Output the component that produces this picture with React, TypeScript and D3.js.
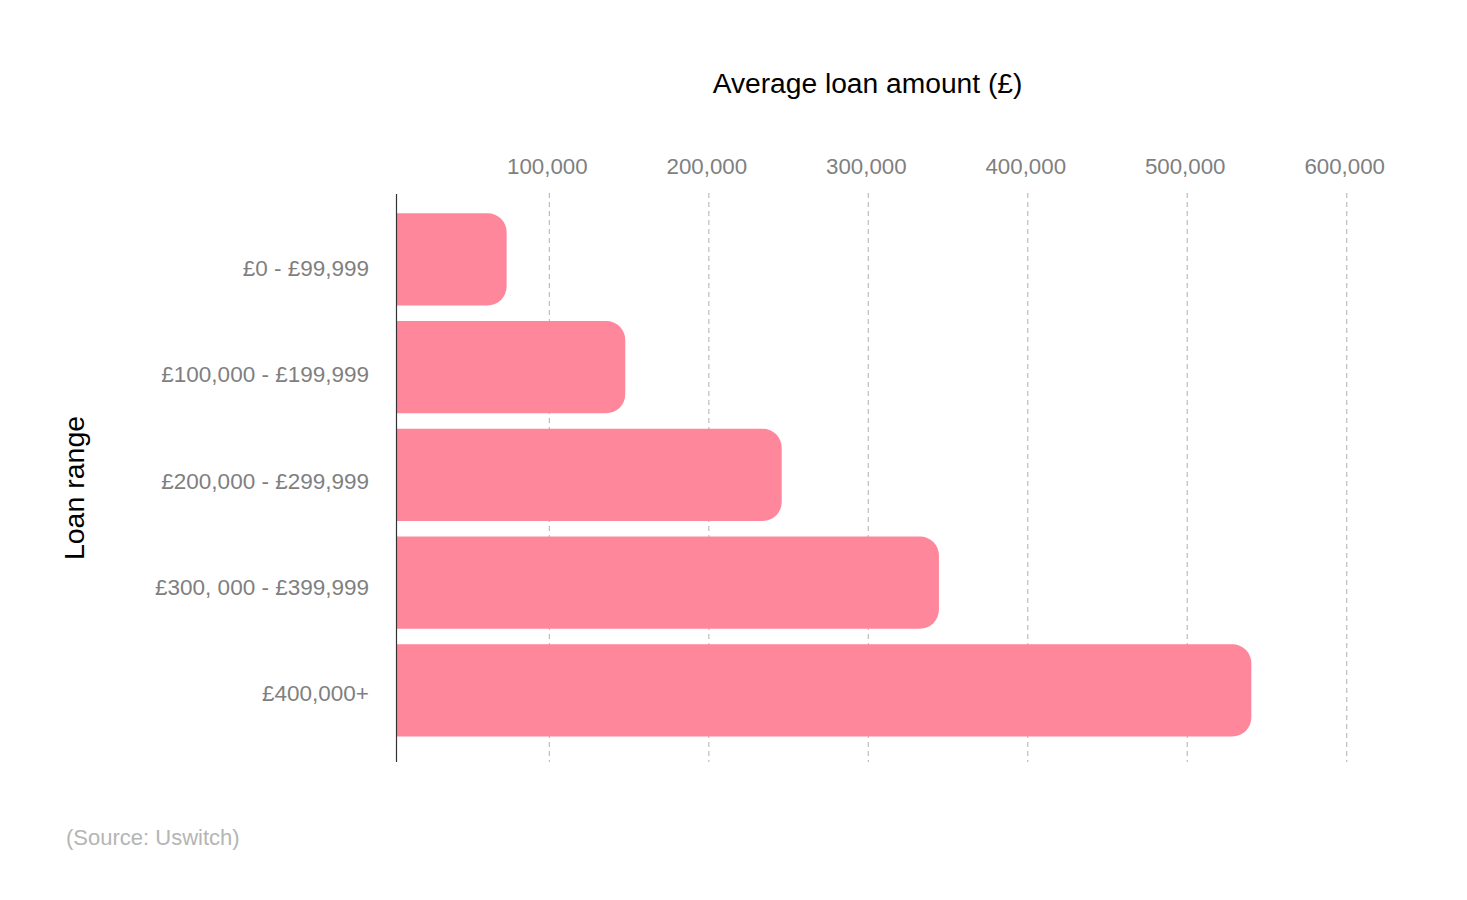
import React from "react";
import * as d3 from "d3";

const categories = [
  "£0 - £99,999",
  "£100,000 - £199,999",
  "£200,000 - £299,999",
  "£300, 000 - £399,999",
  "£400,000+",
];
const values = [73200, 147600, 245700, 344300, 540200];
const tickValues = [100000, 200000, 300000, 400000, 500000, 600000];
const title = "Average loan amount (£)";
const yTitle = "Loan range";
const source = "(Source: Uswitch)";

const W = 1467;
const H = 900;
const FONT = "'Liberation Sans', Arial, Helvetica, sans-serif";
const BAR = "#FF879B";

function barPath(x0: number, x1: number, y: number, h: number, r: number) {
  const rr = Math.min(r, x1 - x0, h / 2);
  const p = d3.path();
  p.moveTo(x0, y);
  p.lineTo(x1 - rr, y);
  p.arcTo(x1, y, x1, y + rr, rr);
  p.lineTo(x1, y + h - rr);
  p.arcTo(x1, y + h, x1 - rr, y + h, rr);
  p.lineTo(x0, y + h);
  p.closePath();
  return p.toString();
}

export default function App() {
  const x = d3.scaleLinear().domain([0, 600000]).range([389.9, 1346.7]);
  const y = d3
    .scaleBand<string>()
    .domain(categories)
    .range([205.5, 744.3])
    .paddingInner(0.144)
    .paddingOuter(0.072);
  const labelY = d3.scalePoint<string>().domain(categories).range([276, 701]);
  const axisX = 396.5;
  const gridTop = 193;
  const gridBottom = 762;
  const fmt = d3.format(",");

  return (
    <svg
      width={W}
      height={H}
      viewBox={`0 0 ${W} ${H}`}
      style={{ position: "absolute", left: 0, top: 0, background: "#fff" }}
      fontFamily={FONT}
    >
      <rect x={0} y={0} width={W} height={H} fill="#fff" />
      {tickValues.map((t) => (
        <g key={t}>
          <line
            x1={x(t)}
            x2={x(t)}
            y1={gridTop}
            y2={gridBottom}
            stroke="#bdbdbd"
            strokeWidth={1.2}
            strokeDasharray="5,4"
          />
          <text
            x={x(t) - 2}
            y={174}
            textAnchor="middle"
            fontSize={22.3}
            fill="#7f7f7f"
          >
            {fmt(t)}
          </text>
        </g>
      ))}
      {categories.map((c, i) => (
        <path
          key={c}
          d={barPath(axisX, x(values[i]), y(c)!, y.bandwidth(), 19)}
          fill={BAR}
        />
      ))}
      <line
        x1={axisX}
        x2={axisX}
        y1={194}
        y2={762}
        stroke="#333"
        strokeWidth={1.2}
      />
      {categories.map((c) => (
        <text
          key={c}
          x={369}
          y={labelY(c)!}
          textAnchor="end"
          fontSize={22.5}
          fill="#7f7f7f"
        >
          {c}
        </text>
      ))}
      <text x={867.5} y={93} textAnchor="middle" fontSize={28.2} fill="#000">
        {title}
      </text>
      <text
        transform={`translate(84, 488) rotate(-90)`}
        textAnchor="middle"
        fontSize={28.5}
        fill="#000"
      >
        {yTitle}
      </text>
      <text x={66} y={845} fontSize={22} fill="#b5b5b5">
        {source}
      </text>
    </svg>
  );
}
